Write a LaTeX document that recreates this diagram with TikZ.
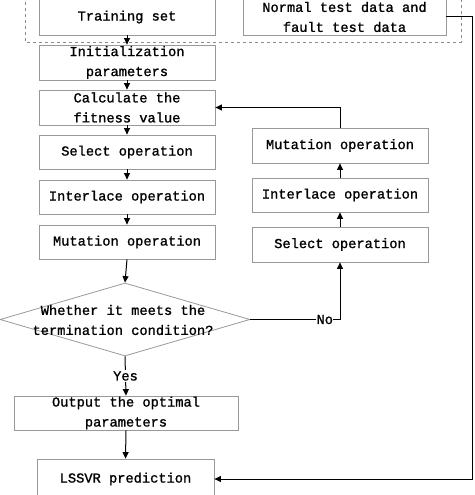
\documentclass[tikz,border=0pt]{standalone}
\usepackage{fontspec}
\setmainfont{Liberation Mono}[FakeBold=1.2]
\usetikzlibrary{arrows.meta,shapes.geometric,calc}
\begin{document}
\begin{tikzpicture}[x=1pt,y=-1pt,
  font=\fontsize{13.7}{20}\selectfont,
  box/.style={draw=black!40, line width=0.8pt, rectangle, inner sep=0pt, align=center, text=black},
  lbox/.style={box, minimum width=176, minimum height=35},
  arr/.style={draw=black, line width=1pt, -{Triangle[length=6.5pt,width=6pt]}},
  lbl/.style={fill=white, inner sep=1pt, text=black}]
\useasboundingbox (0,0) rectangle (474,495);
% dashed group
\draw[black!45, dashed, line width=0.7pt] (25,-10) -- (25,42) -- (461,42) -- (461,-10);
\node[box, minimum width=176, minimum height=36] (train) at (127,17) {Training set};
\node[box, minimum width=203, minimum height=36] (test) at (344.5,17) {Normal test data and\\fault test data};
% left column
\node[lbox] (init) at (127,62.5) {Initialization\\parameters};
\node[lbox] (fit) at (127,107.5) {Calculate the\\fitness value};
\node[lbox, minimum height=34] (sel) at (127,152) {Select operation};
\node[lbox, minimum height=34] (inter) at (127,197) {Interlace operation};
\node[lbox, minimum height=34] (mut) at (127,242) {Mutation operation};
\node[diamond, draw=black!40, line width=0.8pt, minimum width=250, minimum height=73, inner sep=0pt] (dia) at (125,319.5) {};
\node[align=center, inner sep=0pt] (diatext) at (123,320) {Whether it meets the\\termination condition?};
\node[box, minimum width=224, minimum height=34] (out) at (126,413) {Output the optimal\\parameters};
\node[box, minimum width=177, minimum height=40] (lssvr) at (125.5,479) {LSSVR prediction};
% right column
\node[lbox] (rmut) at (340,145.5) {Mutation operation};
\node[lbox, minimum height=34] (rint) at (340,195) {Interlace operation};
\node[lbox] (rsel) at (340,244.5) {Select operation};
% connectors
\draw[arr] (train) -- (init);
\draw[arr] (init) -- (fit);
\draw[arr] (fit) -- (sel);
\draw[arr] (sel) -- (inter);
\draw[arr] (inter) -- (mut);
\draw[arr] (mut.south) -- (dia.north);
\draw[arr] (dia.south) -- node[lbl, pos=0.5] (yes) {Yes} (out.north);
\draw[arr] (out.south) -- (lssvr.north);
\coordinate (nocorner) at (rsel.south |- dia.east);
\draw[arr] (dia.east) -- node[lbl, pos=0.83, inner sep=0.5pt] (no) {No} (nocorner) -- (rsel.south);
\draw[arr] (rsel) -- (rint);
\draw[arr] (rint) -- (rmut);
\coordinate (fitcorner) at (rmut.north |- fit.east);
\draw[arr] (rmut.north) -- (fitcorner) -- (fit.east);
\coordinate (tr1) at (472,17);
\coordinate (tr2) at (472,479);
\draw[arr] (test.east) -- (tr1) -- (tr2) -- (lssvr.east);
\end{tikzpicture}
\end{document}
